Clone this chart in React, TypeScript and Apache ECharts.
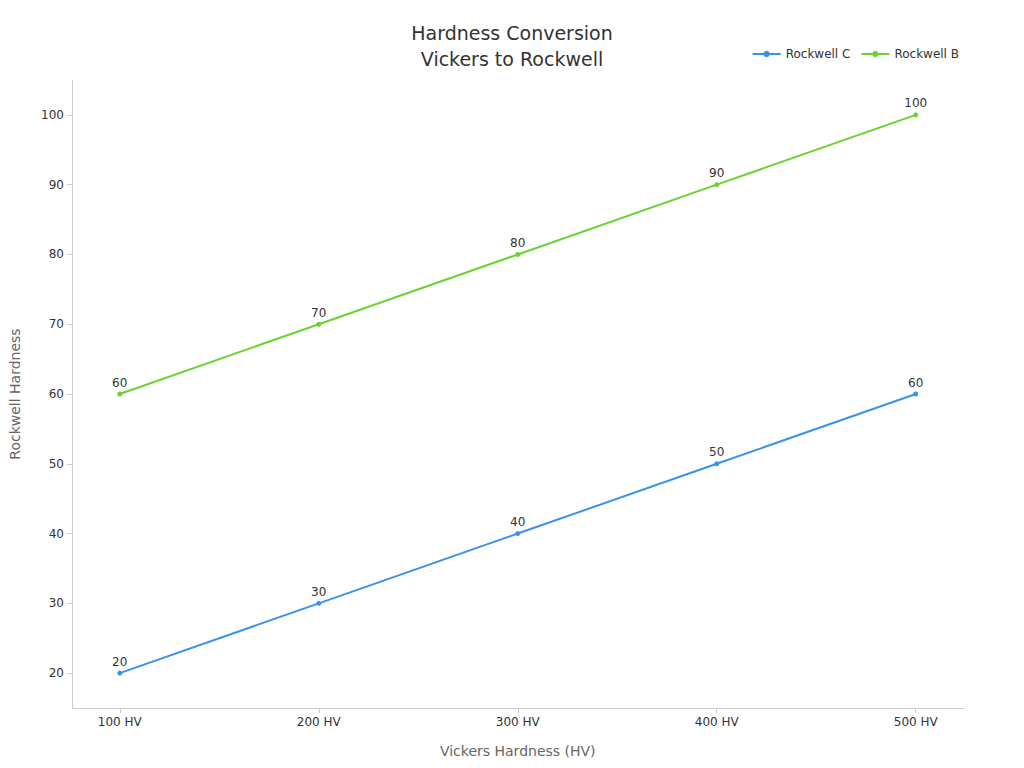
import { useEffect, useRef } from 'react';
import * as echarts from 'echarts';

const vickers = [100, 200, 300, 400, 500];
const rockwellC = [20, 30, 40, 50, 60];
const rockwellB = [60, 70, 80, 90, 100];

const FONT = '"DejaVu Sans", sans-serif';

export default function App() {
  const chartRef = useRef<HTMLDivElement>(null);

  useEffect(() => {
    if (!chartRef.current) return;
    document.body.style.margin = '0';
    const chart = echarts.init(chartRef.current, null, { renderer: 'svg' });

    const toPairs = (ys: number[]) => vickers.map((x, i) => [x, ys[i]]);

    const option: echarts.EChartsOption = {
      animation: false,
      backgroundColor: '#ffffff',
      textStyle: { fontFamily: FONT },
      title: {
        text: 'Hardness Conversion\nVickers to Rockwell',
        left: 'center',
        top: 15,
        textStyle: {
          fontFamily: FONT,
          fontSize: 19,
          fontWeight: 'normal',
          color: '#333',
          lineHeight: 26,
        },
      },
      legend: {
        top: 43,
        right: 60,
        itemWidth: 28,
        itemHeight: 8,
        itemGap: 10,
        textStyle: { fontFamily: FONT, fontSize: 12, color: '#333' },
        data: ['Rockwell C', 'Rockwell B'],
      },
      grid: { left: 68.5, right: 60.5, top: 80, bottom: 60, containLabel: false },
      xAxis: {
        type: 'value',
        min: 76,
        max: 524,
        splitNumber: 5,
        name: 'Vickers Hardness (HV)',
        nameLocation: 'middle',
        nameGap: 36,
        nameTextStyle: { fontFamily: FONT, fontSize: 14, color: '#666' },
        axisLine: { show: true, lineStyle: { color: '#ccc' } },
        axisTick: { show: true, lineStyle: { color: '#ccc' } },
        splitLine: { show: false },
        axisLabel: {
          showMinLabel: false,
          showMaxLabel: false,
          fontFamily: FONT,
          fontSize: 12,
          color: '#333',
          formatter: (v: number) => (v % 100 === 0 ? `${v} HV` : ''),
        },
      },
      yAxis: {
        type: 'value',
        min: 15,
        max: 105,
        splitNumber: 9,
        name: 'Rockwell Hardness',
        nameLocation: 'middle',
        nameGap: 50,
        nameTextStyle: { fontFamily: FONT, fontSize: 14, color: '#666' },
        axisLine: { show: true, lineStyle: { color: '#ccc' } },
        axisTick: { show: true, lineStyle: { color: '#ccc' } },
        splitLine: { show: false },
        axisLabel: {
          showMinLabel: false,
          showMaxLabel: false,
          fontFamily: FONT,
          fontSize: 12,
          color: '#333',
          formatter: (v: number) => (v % 10 === 0 ? `${v}` : ''),
        },
      },
      series: [
        {
          name: 'Rockwell C',
          type: 'line',
          data: toPairs(rockwellC),
          symbol: 'circle',
          symbolSize: 5,
          itemStyle: { color: '#3a93e8' },
          lineStyle: { width: 2, color: '#3a93e8' },
          label: { show: true, position: 'top', distance: 3, fontFamily: FONT, fontSize: 12, color: '#333' },
        },
        {
          name: 'Rockwell B',
          type: 'line',
          data: toPairs(rockwellB),
          symbol: 'circle',
          symbolSize: 5,
          itemStyle: { color: '#6ad32f' },
          lineStyle: { width: 2, color: '#6ad32f' },
          label: { show: true, position: 'top', distance: 3, fontFamily: FONT, fontSize: 12, color: '#333' },
        },
      ],
    };

    chart.setOption(option);
    return () => chart.dispose();
  }, []);

  return <div ref={chartRef} style={{ width: 1024, height: 768 }} />;
}
